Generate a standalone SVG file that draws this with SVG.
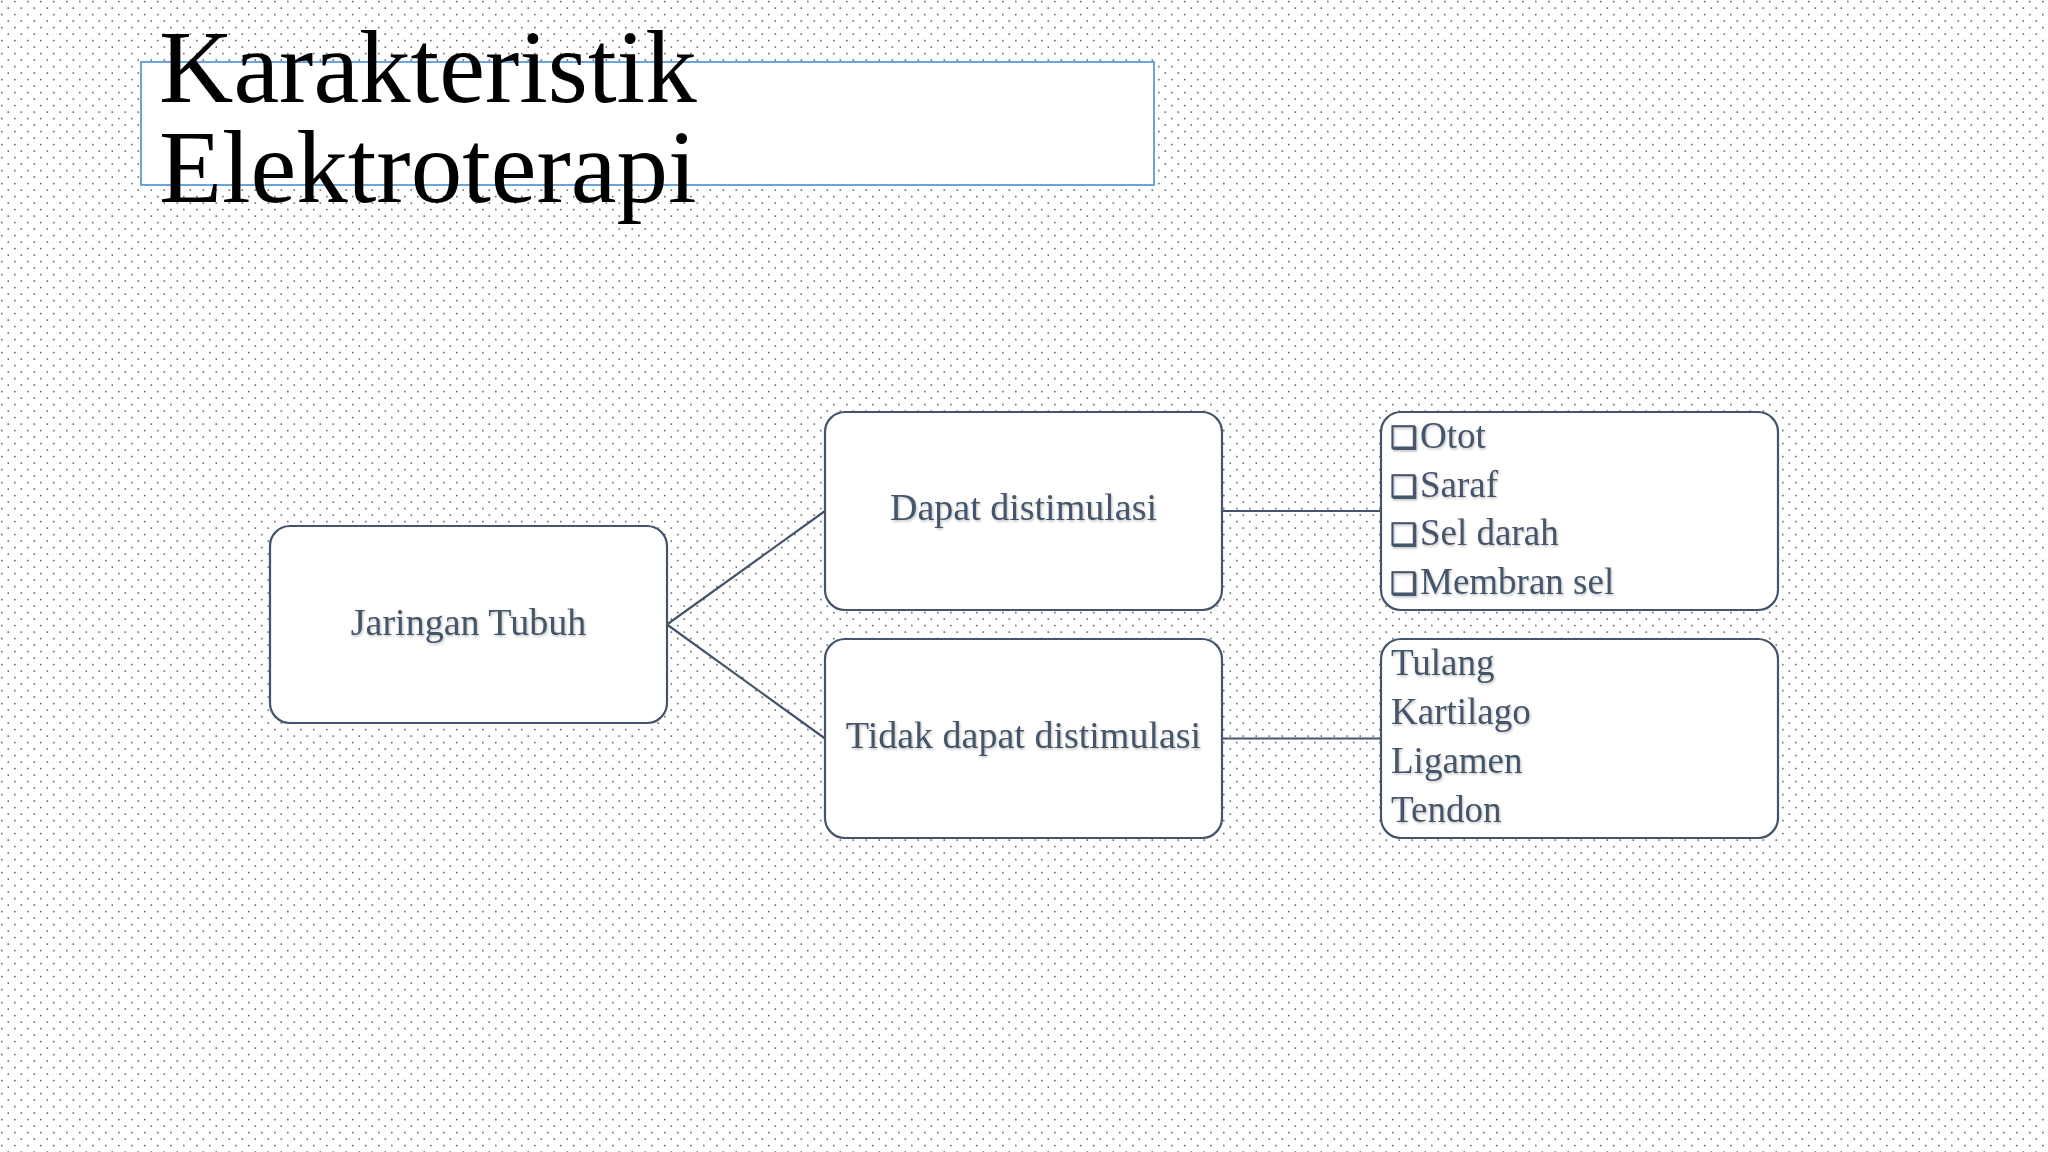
<svg xmlns="http://www.w3.org/2000/svg" width="2048" height="1152" viewBox="0 0 2048 1152">
  <defs>
    <pattern id="dots" patternUnits="userSpaceOnUse" width="13" height="13">
      <rect x="7.5" y="7.3" width="1.6" height="1.6" fill="#6a6a6a"/>
      <rect x="1.0" y="0.8" width="1.6" height="1.6" fill="#6a6a6a"/>
    </pattern>
    <filter id="shadow" x="-5%" y="-20%" width="110%" height="150%">
      <feDropShadow dx="1" dy="1.5" stdDeviation="1" flood-color="#000" flood-opacity="0.25"/>
    </filter>
  </defs>
  <style>
    .node { fill: #ffffff; stroke: #44546a; stroke-width: 2.2; }
    .lbl { font-family: "Liberation Serif", "DejaVu Serif", serif; font-size: 38px; fill: #44546a; text-anchor: middle; filter: url(#shadow); }
    .item { font-family: "Liberation Serif", "DejaVu Serif", serif; font-size: 37px; fill: #44546a; filter: url(#shadow); }
    .bul { font-family: "DejaVu Sans", sans-serif; font-size: 31px; stroke: #44546a; stroke-width: 0.7; }
    .conn { stroke: #44546a; stroke-width: 2.2; fill: none; }
    .title { font-family: "Liberation Serif", "DejaVu Serif", serif; font-size: 103px; fill: #000000; }
  </style>
  <rect x="0" y="0" width="2048" height="1152" fill="#ffffff"/>
  <rect x="0" y="0" width="2048" height="1152" fill="url(#dots)"/>

  <g id="title">
    <rect x="141" y="62" width="1013" height="123" fill="#ffffff" stroke="#5b9bd5" stroke-width="1.8"/>
    <text class="title" x="159" y="102">Karakteristik</text>
    <text class="title" x="159" y="202">Elektroterapi</text>
  </g>

  <g id="connectors">
    <line class="conn" x1="667" y1="624.5" x2="825" y2="511"/>
    <line class="conn" x1="667" y1="624.5" x2="825" y2="738.5"/>
    <line class="conn" x1="1222" y1="511" x2="1381" y2="511"/>
    <line class="conn" x1="1222" y1="738.5" x2="1381" y2="738.5"/>
  </g>

  <g id="node-jaringan">
    <rect class="node" x="270" y="526" width="397" height="197" rx="20"/>
    <text class="lbl" x="468.5" y="635">Jaringan Tubuh</text>
  </g>

  <g id="node-dapat">
    <rect class="node" x="825" y="412" width="397" height="198" rx="20"/>
    <text class="lbl" x="1023.5" y="520">Dapat distimulasi</text>
  </g>

  <g id="node-tidak">
    <rect class="node" x="825" y="639" width="397" height="199" rx="20"/>
    <text class="lbl" x="1023.5" y="748">Tidak dapat distimulasi</text>
  </g>

  <g id="node-list-dapat">
    <rect class="node" x="1381" y="412" width="397" height="198" rx="20"/>
    <text class="item" x="1390" y="448"><tspan class="bul">❑</tspan><tspan x="1420">Otot</tspan></text>
    <text class="item" x="1390" y="497"><tspan class="bul">❑</tspan><tspan x="1420">Saraf</tspan></text>
    <text class="item" x="1390" y="545"><tspan class="bul">❑</tspan><tspan x="1420">Sel darah</tspan></text>
    <text class="item" x="1390" y="594"><tspan class="bul">❑</tspan><tspan x="1420">Membran sel</tspan></text>
  </g>

  <g id="node-list-tidak">
    <rect class="node" x="1381" y="639" width="397" height="199" rx="20"/>
    <text class="item" x="1391" y="675">Tulang</text>
    <text class="item" x="1391" y="724">Kartilago</text>
    <text class="item" x="1391" y="773">Ligamen</text>
    <text class="item" x="1391" y="822">Tendon</text>
  </g>
</svg>
